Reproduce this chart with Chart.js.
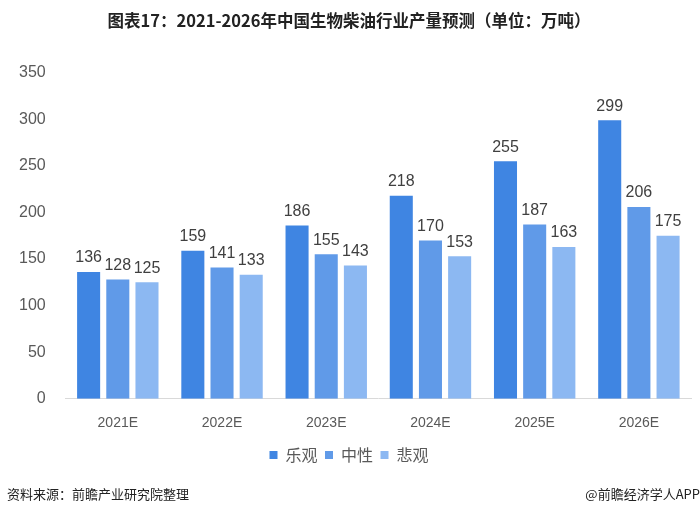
<!DOCTYPE html>
<html>
<head>
<meta charset="utf-8">
<script src="https://cdn.jsdelivr.net/npm/chart.js@4/dist/chart.umd.min.js"></script>
<style>
    html, body { margin: 0; padding: 0; background: #fff; }
    #wrap { position: relative; width: 700px; height: 514px; }
    .foot { position: absolute; top: 484px; font: 13px "Noto Sans CJK SC", sans-serif; color: #222; }
</style>
</head>
<body>
<div id="wrap">
    <canvas id="chart" width="700" height="514"></canvas>
    <div class="foot" style="left:7px">资料来源：前瞻产业研究院整理</div>
    <div class="foot" style="right:0px">@前瞻经济学人APP</div>
</div>
<script>
const years = ["2021E", "2022E", "2023E", "2024E", "2025E", "2026E"]
const optimistic = [136, 159, 186, 218, 255, 299]
const neutral = [128, 141, 155, 170, 187, 206]
const pessimistic = [125, 133, 143, 153, 163, 175]
const series_names = ["乐观", "中性", "悲观"]
const colors = ["#3f85e2", "#609ae8", "#8cb8f2"]

// draws the value above every bar
const valueLabels = {
    id: "valueLabels",
    afterDatasetsDraw(chart) {
        let ctx = chart.ctx
        ctx.save()
        ctx.font = "16px 'Liberation Sans', Arial, sans-serif"
        ctx.fillStyle = "#404040"
        ctx.textAlign = "center"
        ctx.textBaseline = "bottom"
        chart.data.datasets.forEach((ds, i) => {
            chart.getDatasetMeta(i).data.forEach((bar, j) => {
                ctx.fillText(ds.data[j], bar.x, bar.y - 6)
            })
        })
        ctx.restore()
    }
}

function makeDataset(label, data, color) {
    return {
        "label": label,
        "data": data,
        "backgroundColor": color,
        "borderWidth": 0,
        "categoryPercentage": 0.84,
        "barPercentage": 0.79
    }
}

new Chart(document.getElementById("chart").getContext("2d"), {
    "type": "bar",
    "data": {
        "labels": years,
        "datasets": [
            makeDataset(series_names[0], optimistic, colors[0]),
            makeDataset(series_names[1], neutral, colors[1]),
            makeDataset(series_names[2], pessimistic, colors[2])
        ]
    },
    "options": {
        "responsive": false,
        "animation": false,
        "layout": { "padding": { "left": 7, "right": 9, "top": 0, "bottom": 41 } },
        "plugins": {
            "title": {
                "display": true,
                "text": "图表17：2021-2026年中国生物柴油行业产量预测（单位：万吨）",
                "color": "#222",
                "font": { "family": "'Noto Sans CJK SC', sans-serif", "size": 16.5, "weight": "bold" },
                "padding": { "top": 11, "bottom": 42 }
            },
            "legend": {
                "position": "bottom",
                "labels": {
                    "boxWidth": 8,
                    "boxHeight": 8,
                    "color": "#595959",
                    "font": { "family": "'Noto Sans CJK SC', sans-serif", "size": 16 },
                    "padding": 7.5
                }
            },
            "tooltip": { "enabled": false }
        },
        "scales": {
            "x": {
                "grid": { "display": false },
                "border": { "color": "#d9d9d9" },
                "ticks": {
                    "color": "#595959",
                    "font": { "family": "'Liberation Sans', Arial, sans-serif", "size": 14 },
                    "padding": 8
                }
            },
            "y": {
                "min": 0,
                "max": 350,
                "grid": { "display": false },
                "border": { "display": false },
                "ticks": {
                    "stepSize": 50,
                    "color": "#595959",
                    "font": { "family": "'Liberation Sans', Arial, sans-serif", "size": 16 },
                    "padding": 12
                }
            }
        }
    },
    "plugins": [valueLabels]
})
</script>
</body>
</html>
